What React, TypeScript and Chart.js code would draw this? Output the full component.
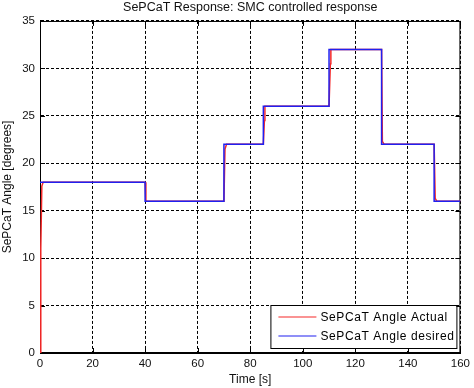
import React, { useEffect, useRef } from "react";
import { Chart, registerables } from "chart.js";

Chart.register(...registerables);

const TITLE = "SePCaT Response: SMC controlled response";
const X_LABEL = "Time [s]";
const Y_LABEL = "SePCaT Angle [degrees]";
const SERIES_NAMES = ["SePCaT Angle Actual", "SePCaT Angle desired"];

// desired: level changes (time, angle), held until next time
const desiredT = [0, 40, 70, 85, 110, 130, 150, 160];
const desiredY = [18, 16, 22, 26, 32, 22, 16, 16];

// actual: follows desired with a tiny lag
const actualT = [0, 0.3, 0.7, 1.2, 40, 40.3, 70, 70.4, 71, 85, 85.4, 85.6, 110, 110.5, 110.7, 130, 130.3, 131, 150, 150.4, 151, 160];
const actualY = [0, 11, 17.6, 18, 18, 16, 16, 21.5, 22, 22, 24.5, 26, 26, 30.5, 32, 32, 22.3, 22, 22, 16.3, 16, 16];

const X_MIN = 0, X_MAX = 160, X_STEP = 20;
const Y_MIN = 0, Y_MAX = 35, Y_STEP = 5;

const FONT = "'Liberation Sans', Arial, sans-serif";

const boxPlugin = {
  id: "boxAndLegend",
  beforeDatasetsDraw(chart: any) {
    const { ctx, chartArea: a, scales } = chart;
    ctx.save();
    ctx.strokeStyle = "#000";
    ctx.lineWidth = 1;
    ctx.setLineDash([]);
    ctx.strokeRect(a.left + 0.5, a.top + 0.5, a.right - a.left - 1, a.bottom - a.top - 1);
    const tl = 5;
    ctx.beginPath();
    scales.x.ticks.forEach((t: any) => {
      const px = Math.round(scales.x.getPixelForValue(t.value)) + 0.5;
      ctx.moveTo(px, a.bottom);
      ctx.lineTo(px, a.bottom - tl);
      ctx.moveTo(px, a.top);
      ctx.lineTo(px, a.top + tl);
    });
    scales.y.ticks.forEach((t: any) => {
      const py = Math.round(scales.y.getPixelForValue(t.value)) + 0.5;
      ctx.moveTo(a.left, py);
      ctx.lineTo(a.left + tl, py);
      ctx.moveTo(a.right, py);
      ctx.lineTo(a.right - tl, py);
    });
    ctx.stroke();
    ctx.restore();
  },
  afterDraw(chart: any) {
    const { ctx, chartArea: a, scales } = chart;
    ctx.save();
    const w = 186, h = 43;
    const lx = a.right - 4 - w;
    const ly = a.bottom - 5 - h;
    ctx.fillStyle = "#fff";
    ctx.fillRect(lx, ly, w, h);
    ctx.strokeStyle = "#000";
    ctx.lineWidth = 1;
    ctx.strokeRect(lx + 0.5, ly + 0.5, w, h);
    ctx.beginPath();
    scales.x.ticks.forEach((t: any) => {
      const px = Math.round(scales.x.getPixelForValue(t.value)) + 0.5;
      if (px > lx && px < lx + w) {
        ctx.moveTo(px, a.bottom);
        ctx.lineTo(px, a.bottom - 5);
      }
    });
    ctx.stroke();
    const colors = chart.data.datasets.map((d: any) => d.borderColor);
    ctx.font = `12px ${FONT}`;
    (ctx as any).letterSpacing = "0.6px";
    ctx.textBaseline = "middle";
    SERIES_NAMES.forEach((name, i) => {
      const y = ly + 12 + i * 19;
      ctx.strokeStyle = colors[i];
      ctx.lineWidth = 1.2;
      ctx.beginPath();
      ctx.moveTo(lx + 8, y);
      ctx.lineTo(lx + 46, y);
      ctx.stroke();
      ctx.fillStyle = "#000";
      ctx.fillText(name, lx + 50, y + 0.5);
    });
    ctx.restore();
  },
};

export default function App() {
  const ref = useRef<HTMLCanvasElement>(null);
  useEffect(() => {
    document.body.style.margin = "0";
    const canvas = ref.current!;
    const chart = new Chart(canvas, {
      type: "line",
      data: {
        datasets: [
          {
            label: SERIES_NAMES[0],
            data: actualT.map((t, i) => ({ x: t, y: actualY[i] })),
            borderColor: "#f52828",
            borderWidth: 1.5,
            pointRadius: 0,
            order: 1,
          },
          {
            label: SERIES_NAMES[1],
            data: desiredT.map((t, i) => ({ x: t, y: desiredY[i] })),
            borderColor: "#2020f0",
            borderWidth: 1.5,
            pointRadius: 0,
            stepped: "before",
            order: 0,
          },
        ],
      },
      options: {
        animation: false,
        responsive: false,
        layout: { padding: { top: 0, right: 13, bottom: 0, left: 0 } },
        plugins: {
          legend: { display: false },
          tooltip: { enabled: false },
          title: {
            display: true,
            text: TITLE,
            fullSize: false,
            color: "#111",
            font: { family: FONT, size: 12.5, weight: "normal", lineHeight: 1.1 },
            padding: { top: 1, bottom: 6.2 },
          },
        },
        scales: {
          x: {
            type: "linear",
            min: X_MIN,
            max: X_MAX,
            ticks: { stepSize: X_STEP, color: "#111", font: { family: FONT, size: 11.5 }, padding: 4, maxRotation: 0 },
            grid: { color: "#000", drawTicks: false, tickLength: 0 },
            border: { display: true, color: "#000", dash: [3, 2] },
            title: { display: true, text: X_LABEL, color: "#111", font: { family: FONT, size: 12 }, padding: { top: 0, bottom: 0.8 } },
            afterFit(s: any) { s.height = 35; },
          },
          y: {
            type: "linear",
            min: Y_MIN,
            max: Y_MAX,
            ticks: { stepSize: Y_STEP, color: "#111", font: { family: FONT, size: 11.5 }, padding: 5 },
            grid: { color: "#000", drawTicks: false, tickLength: 0 },
            border: { display: true, color: "#000", dash: [3, 2] },
            title: { display: true, text: Y_LABEL, color: "#111", font: { family: FONT, size: 12 }, padding: { top: 0, bottom: 0 } },
            afterFit(s: any) { s.width = 40; },
          },
        },
      },
      plugins: [boxPlugin],
    });
    return () => chart.destroy();
  }, []);
  return <canvas ref={ref} width={474} height={388} style={{ display: "block", background: "#fff" }} />;
}
